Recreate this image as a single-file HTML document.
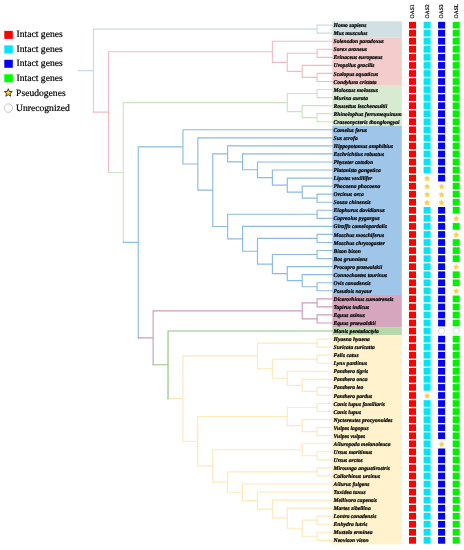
<!DOCTYPE html>
<html><head><meta charset="utf-8"><title>OAS gene phylogeny</title>
<style>
html,body{margin:0;padding:0;background:#fff;}
body{width:464px;height:550px;overflow:hidden;position:relative;}
svg{position:absolute;left:0;top:0;display:block;text-rendering:geometricPrecision;}
</style></head><body>
<svg id="tree" width="464" height="550" viewBox="0 0 464 550">
<rect x="332.30" y="21.30" width="69.50" height="16.10" fill="#d0e0e3"/>
<rect x="332.30" y="37.40" width="69.50" height="48.30" fill="#f4cccc"/>
<rect x="332.30" y="85.70" width="69.50" height="40.25" fill="#d9ead3"/>
<rect x="332.30" y="125.95" width="69.50" height="169.05" fill="#9fc5e8"/>
<rect x="332.30" y="295.00" width="69.50" height="32.20" fill="#d5a6bd"/>
<rect x="332.30" y="327.20" width="69.50" height="8.05" fill="#b6d7a8"/>
<rect x="332.30" y="335.25" width="69.50" height="209.30" fill="#fff2cc"/>
<path d="M317.11 25.10V33.15M317.11 25.10H332.30M317.11 33.15H332.30M93.50 29.13V112.12M93.50 29.13H317.11M78.20 70.62H93.50" fill="none" stroke="#c6dce1" stroke-width="1.15" stroke-linecap="square"/>
<path d="M317.11 49.25V57.30M317.11 49.25H332.30M317.11 57.30H332.30M317.11 73.40V81.45M317.11 73.40H332.30M317.11 81.45H332.30M302.20 65.35V77.43M302.20 65.35H332.30M302.20 77.43H317.11M287.29 53.28V71.39M287.29 53.28H317.11M287.29 71.39H302.20M272.38 41.20V62.33M272.38 41.20H332.30M272.38 62.33H287.29M108.41 51.77V172.47M108.41 51.77H272.38M93.50 112.12H108.41" fill="none" stroke="#f3bcc4" stroke-width="1.15" stroke-linecap="square"/>
<path d="M317.11 89.50V97.55M317.11 89.50H332.30M317.11 97.55H332.30M317.11 113.65V121.70M317.11 113.65H332.30M317.11 121.70H332.30M302.20 105.60V117.68M302.20 105.60H332.30M302.20 117.68H317.11M287.29 93.53V111.64M287.29 93.53H317.11M287.29 111.64H302.20M123.31 102.58V242.35M123.31 102.58H287.29M108.41 172.47H123.31" fill="none" stroke="#cbe3c1" stroke-width="1.15" stroke-linecap="square"/>
<path d="M317.11 194.15V202.20M317.11 194.15H332.30M317.11 202.20H332.30M302.20 186.10V198.18M302.20 186.10H332.30M302.20 198.18H317.11M287.29 178.05V192.14M287.29 178.05H332.30M287.29 192.14H302.20M272.38 170.00V185.09M272.38 170.00H332.30M272.38 185.09H287.29M257.48 161.95V177.55M257.48 161.95H332.30M257.48 177.55H272.38M242.57 153.90V169.75M242.57 153.90H332.30M242.57 169.75H257.48M227.66 145.85V161.82M227.66 145.85H332.30M227.66 161.82H242.57M317.11 210.25V218.30M317.11 210.25H332.30M317.11 218.30H332.30M317.11 234.40V242.45M317.11 234.40H332.30M317.11 242.45H332.30M317.11 250.50V258.55M317.11 250.50H332.30M317.11 258.55H332.30M317.11 282.70V290.75M317.11 282.70H332.30M317.11 290.75H332.30M302.20 274.65V286.73M302.20 274.65H332.30M302.20 286.73H317.11M287.29 266.60V280.69M287.29 266.60H332.30M287.29 280.69H302.20M272.38 254.53V273.64M272.38 254.53H317.11M272.38 273.64H287.29M257.48 238.43V264.08M257.48 238.43H317.11M257.48 264.08H272.38M242.57 226.35V251.25M242.57 226.35H332.30M242.57 251.25H257.48M227.66 214.28V238.80M227.66 214.28H317.11M227.66 238.80H242.57M212.76 153.84V226.54M212.76 153.84H227.66M212.76 226.54H227.66M197.85 137.80V190.19M197.85 137.80H332.30M197.85 190.19H212.76M182.94 129.75V163.99M182.94 129.75H332.30M182.94 163.99H197.85M138.22 146.87V337.83M138.22 146.87H182.94M123.31 242.35H138.22" fill="none" stroke="#8cbae6" stroke-width="1.15" stroke-linecap="square"/>
<path d="M317.11 298.80V306.85M317.11 298.80H332.30M317.11 306.85H332.30M317.11 314.90V322.95M317.11 314.90H332.30M317.11 322.95H332.30M302.20 302.83V318.93M302.20 302.83H317.11M302.20 318.93H317.11M153.13 310.88V364.78M153.13 310.88H302.20M138.22 337.83H153.13" fill="none" stroke="#cf9cb8" stroke-width="1.15" stroke-linecap="square"/>
<path d="M317.11 339.05V347.10M317.11 339.05H332.30M317.11 347.10H332.30M317.11 355.15V363.20M317.11 355.15H332.30M317.11 363.20H332.30M317.11 387.35V395.40M317.11 387.35H332.30M317.11 395.40H332.30M302.20 379.30V391.38M302.20 379.30H332.30M302.20 391.38H317.11M287.29 371.25V385.34M287.29 371.25H332.30M287.29 385.34H302.20M272.38 359.18V378.29M272.38 359.18H317.11M272.38 378.29H287.29M257.48 343.08V368.73M257.48 343.08H317.11M257.48 368.73H272.38M317.11 403.45V411.50M317.11 403.45H332.30M317.11 411.50H332.30M317.11 427.60V435.65M317.11 427.60H332.30M317.11 435.65H332.30M302.20 419.55V431.63M302.20 419.55H332.30M302.20 431.63H317.11M287.29 407.48V425.59M287.29 407.48H317.11M287.29 425.59H302.20M317.11 451.75V459.80M317.11 451.75H332.30M317.11 459.80H332.30M302.20 443.70V455.78M302.20 443.70H332.30M302.20 455.78H317.11M317.11 467.85V475.90M317.11 467.85H332.30M317.11 475.90H332.30M317.11 516.15V524.20M317.11 516.15H332.30M317.11 524.20H332.30M317.11 532.25V540.30M317.11 532.25H332.30M317.11 540.30H332.30M302.20 520.18V536.28M302.20 520.18H317.11M302.20 536.28H317.11M287.29 508.10V528.23M287.29 508.10H332.30M287.29 528.23H302.20M272.38 500.05V518.16M272.38 500.05H332.30M272.38 518.16H287.29M257.48 492.00V509.11M257.48 492.00H332.30M257.48 509.11H272.38M242.57 483.95V500.55M242.57 483.95H332.30M242.57 500.55H257.48M227.66 471.88V492.25M227.66 471.88H317.11M227.66 492.25H242.57M212.76 449.74V482.06M212.76 449.74H302.20M212.76 482.06H227.66M197.85 416.53V465.90M197.85 416.53H287.29M197.85 465.90H212.76M182.94 355.90V441.22M182.94 355.90H257.48M182.94 441.22H197.85M168.03 398.56H182.94" fill="none" stroke="#ffe8ba" stroke-width="1.15" stroke-linecap="square"/>
<path d="M168.03 331.00V398.56M168.03 331.00H332.30M153.13 364.78H168.03" fill="none" stroke="#8fc67a" stroke-width="1.15" stroke-linecap="square"/>
<g font-family="Liberation Serif, serif" font-weight="bold" font-style="italic" font-size="5.6" fill="#000" stroke="#000" stroke-width="0.22">
<text x="333.60" y="27.20">Homo sapiens</text>
<text x="333.60" y="35.25">Mus musculus</text>
<text x="333.60" y="43.30">Solenodon paradoxus</text>
<text x="333.60" y="51.35">Sorex araneus</text>
<text x="333.60" y="59.40">Erinaceus europaeus</text>
<text x="333.60" y="67.45">Uropsilus gracilis</text>
<text x="333.60" y="75.50">Scalopus aquaticus</text>
<text x="333.60" y="83.55">Condylura cristata</text>
<text x="333.60" y="91.60">Molossus molossus</text>
<text x="333.60" y="99.65">Murina aurata</text>
<text x="333.60" y="107.70">Rousettus leschenaultii</text>
<text x="333.60" y="115.75">Rhinolophus ferrumequinum</text>
<text x="333.60" y="123.80">Craseonycteris thonglongyai</text>
<text x="333.60" y="131.85">Camelus ferus</text>
<text x="333.60" y="139.90">Sus scrofa</text>
<text x="333.60" y="147.95">Hippopotamus amphibius</text>
<text x="333.60" y="156.00">Eschrichtius robustus</text>
<text x="333.60" y="164.05">Physeter catodon</text>
<text x="333.60" y="172.10">Platanista gangetica</text>
<text x="333.60" y="180.15">Lipotes vexillifer</text>
<text x="333.60" y="188.20">Phocoena phocoena</text>
<text x="333.60" y="196.25">Orcinus orca</text>
<text x="333.60" y="204.30">Sousa chinensis</text>
<text x="333.60" y="212.35">Elaphurus davidianus</text>
<text x="333.60" y="220.40">Capreolus pygargus</text>
<text x="333.60" y="228.45">Giraffa camelopardalis</text>
<text x="333.60" y="236.50">Moschus moschiferus</text>
<text x="333.60" y="244.55">Moschus chrysogaster</text>
<text x="333.60" y="252.60">Bison bison</text>
<text x="333.60" y="260.65">Bos grunniens</text>
<text x="333.60" y="268.70">Procapra przewalskii</text>
<text x="333.60" y="276.75">Connochaetes taurinus</text>
<text x="333.60" y="284.80">Ovis canadensis</text>
<text x="333.60" y="292.85">Pseudois nayaur</text>
<text x="333.60" y="300.90">Dicerorhinus sumatrensis</text>
<text x="333.60" y="308.95">Tapirus indicus</text>
<text x="333.60" y="317.00">Equus asinus</text>
<text x="333.60" y="325.05">Equus przewalskii</text>
<text x="333.60" y="333.10">Manis pentadactyla</text>
<text x="333.60" y="341.15">Hyaena hyaena</text>
<text x="333.60" y="349.20">Suricata suricatta</text>
<text x="333.60" y="357.25">Felis catus</text>
<text x="333.60" y="365.30">Lynx pardinus</text>
<text x="333.60" y="373.35">Panthera tigris</text>
<text x="333.60" y="381.40">Panthera onca</text>
<text x="333.60" y="389.45">Panthera leo</text>
<text x="333.60" y="397.50">Panthera pardus</text>
<text x="333.60" y="405.55">Canis lupus familiaris</text>
<text x="333.60" y="413.60">Canis lupus</text>
<text x="333.60" y="421.65">Nyctereutes procyonoides</text>
<text x="333.60" y="429.70">Vulpes lagopus</text>
<text x="333.60" y="437.75">Vulpes vulpes</text>
<text x="333.60" y="445.80">Ailuropoda melanoleuca</text>
<text x="333.60" y="453.85">Ursus maritimus</text>
<text x="333.60" y="461.90">Ursus arctos</text>
<text x="333.60" y="469.95">Mirounga angustirostris</text>
<text x="333.60" y="478.00">Callorhinus ursinus</text>
<text x="333.60" y="486.05">Ailurus fulgens</text>
<text x="333.60" y="494.10">Taxidea taxus</text>
<text x="333.60" y="502.15">Mellivora capensis</text>
<text x="333.60" y="510.20">Martes zibellina</text>
<text x="333.60" y="518.25">Lontra canadensis</text>
<text x="333.60" y="526.30">Enhydra lutris</text>
<text x="333.60" y="534.35">Mustela erminea</text>
<text x="333.60" y="542.40">Neovison vison</text>
</g>
<rect x="409.00" y="21.85" width="7.0" height="6.65" fill="#ff0000"/>
<rect x="423.60" y="21.85" width="7.0" height="6.65" fill="#05e3f5"/>
<rect x="438.10" y="21.85" width="7.0" height="6.65" fill="#0000f5"/>
<rect x="452.70" y="21.85" width="7.0" height="6.65" fill="#00f000"/>
<rect x="409.00" y="29.90" width="7.0" height="6.65" fill="#ff0000"/>
<rect x="423.60" y="29.90" width="7.0" height="6.65" fill="#05e3f5"/>
<rect x="438.10" y="29.90" width="7.0" height="6.65" fill="#0000f5"/>
<rect x="452.70" y="29.90" width="7.0" height="6.65" fill="#00f000"/>
<rect x="409.00" y="37.95" width="7.0" height="6.65" fill="#ff0000"/>
<rect x="423.60" y="37.95" width="7.0" height="6.65" fill="#05e3f5"/>
<rect x="438.10" y="37.95" width="7.0" height="6.65" fill="#0000f5"/>
<rect x="452.70" y="37.95" width="7.0" height="6.65" fill="#00f000"/>
<rect x="409.00" y="46.00" width="7.0" height="6.65" fill="#ff0000"/>
<rect x="423.60" y="46.00" width="7.0" height="6.65" fill="#05e3f5"/>
<rect x="438.10" y="46.00" width="7.0" height="6.65" fill="#0000f5"/>
<rect x="452.70" y="46.00" width="7.0" height="6.65" fill="#00f000"/>
<rect x="409.00" y="54.05" width="7.0" height="6.65" fill="#ff0000"/>
<rect x="423.60" y="54.05" width="7.0" height="6.65" fill="#05e3f5"/>
<rect x="438.10" y="54.05" width="7.0" height="6.65" fill="#0000f5"/>
<rect x="452.70" y="54.05" width="7.0" height="6.65" fill="#00f000"/>
<rect x="409.00" y="62.10" width="7.0" height="6.65" fill="#ff0000"/>
<rect x="423.60" y="62.10" width="7.0" height="6.65" fill="#05e3f5"/>
<rect x="438.10" y="62.10" width="7.0" height="6.65" fill="#0000f5"/>
<rect x="452.70" y="62.10" width="7.0" height="6.65" fill="#00f000"/>
<rect x="409.00" y="70.15" width="7.0" height="6.65" fill="#ff0000"/>
<rect x="423.60" y="70.15" width="7.0" height="6.65" fill="#05e3f5"/>
<rect x="438.10" y="70.15" width="7.0" height="6.65" fill="#0000f5"/>
<rect x="452.70" y="70.15" width="7.0" height="6.65" fill="#00f000"/>
<rect x="409.00" y="78.20" width="7.0" height="6.65" fill="#ff0000"/>
<rect x="423.60" y="78.20" width="7.0" height="6.65" fill="#05e3f5"/>
<rect x="438.10" y="78.20" width="7.0" height="6.65" fill="#0000f5"/>
<rect x="452.70" y="78.20" width="7.0" height="6.65" fill="#00f000"/>
<rect x="409.00" y="86.25" width="7.0" height="6.65" fill="#ff0000"/>
<rect x="423.60" y="86.25" width="7.0" height="6.65" fill="#05e3f5"/>
<rect x="438.10" y="86.25" width="7.0" height="6.65" fill="#0000f5"/>
<rect x="452.70" y="86.25" width="7.0" height="6.65" fill="#00f000"/>
<rect x="409.00" y="94.30" width="7.0" height="6.65" fill="#ff0000"/>
<rect x="423.60" y="94.30" width="7.0" height="6.65" fill="#05e3f5"/>
<rect x="438.10" y="94.30" width="7.0" height="6.65" fill="#0000f5"/>
<rect x="452.70" y="94.30" width="7.0" height="6.65" fill="#00f000"/>
<rect x="409.00" y="102.35" width="7.0" height="6.65" fill="#ff0000"/>
<rect x="423.60" y="102.35" width="7.0" height="6.65" fill="#05e3f5"/>
<rect x="438.10" y="102.35" width="7.0" height="6.65" fill="#0000f5"/>
<rect x="452.70" y="102.35" width="7.0" height="6.65" fill="#00f000"/>
<rect x="409.00" y="110.40" width="7.0" height="6.65" fill="#ff0000"/>
<rect x="423.60" y="110.40" width="7.0" height="6.65" fill="#05e3f5"/>
<rect x="438.10" y="110.40" width="7.0" height="6.65" fill="#0000f5"/>
<rect x="452.70" y="110.40" width="7.0" height="6.65" fill="#00f000"/>
<rect x="409.00" y="118.45" width="7.0" height="6.65" fill="#ff0000"/>
<rect x="423.60" y="118.45" width="7.0" height="6.65" fill="#05e3f5"/>
<rect x="438.10" y="118.45" width="7.0" height="6.65" fill="#0000f5"/>
<rect x="452.70" y="118.45" width="7.0" height="6.65" fill="#00f000"/>
<rect x="409.00" y="126.50" width="7.0" height="6.65" fill="#ff0000"/>
<rect x="423.60" y="126.50" width="7.0" height="6.65" fill="#05e3f5"/>
<rect x="438.10" y="126.50" width="7.0" height="6.65" fill="#0000f5"/>
<rect x="452.70" y="126.50" width="7.0" height="6.65" fill="#00f000"/>
<rect x="409.00" y="134.55" width="7.0" height="6.65" fill="#ff0000"/>
<rect x="423.60" y="134.55" width="7.0" height="6.65" fill="#05e3f5"/>
<rect x="438.10" y="134.55" width="7.0" height="6.65" fill="#0000f5"/>
<rect x="452.70" y="134.55" width="7.0" height="6.65" fill="#00f000"/>
<rect x="409.00" y="142.60" width="7.0" height="6.65" fill="#ff0000"/>
<rect x="423.60" y="142.60" width="7.0" height="6.65" fill="#05e3f5"/>
<rect x="438.10" y="142.60" width="7.0" height="6.65" fill="#0000f5"/>
<rect x="452.70" y="142.60" width="7.0" height="6.65" fill="#00f000"/>
<rect x="409.00" y="150.65" width="7.0" height="6.65" fill="#ff0000"/>
<rect x="423.60" y="150.65" width="7.0" height="6.65" fill="#05e3f5"/>
<rect x="438.10" y="150.65" width="7.0" height="6.65" fill="#0000f5"/>
<rect x="452.70" y="150.65" width="7.0" height="6.65" fill="#00f000"/>
<rect x="409.00" y="158.70" width="7.0" height="6.65" fill="#ff0000"/>
<rect x="423.60" y="158.70" width="7.0" height="6.65" fill="#05e3f5"/>
<rect x="438.10" y="158.70" width="7.0" height="6.65" fill="#0000f5"/>
<rect x="452.70" y="158.70" width="7.0" height="6.65" fill="#00f000"/>
<rect x="409.00" y="166.75" width="7.0" height="6.65" fill="#ff0000"/>
<rect x="423.60" y="166.75" width="7.0" height="6.65" fill="#05e3f5"/>
<rect x="438.10" y="166.75" width="7.0" height="6.65" fill="#0000f5"/>
<rect x="452.70" y="166.75" width="7.0" height="6.65" fill="#00f000"/>
<rect x="409.00" y="174.80" width="7.0" height="6.65" fill="#ff0000"/>
<polygon points="427.10,175.58 427.98,177.36 429.95,177.65 428.53,179.04 428.86,181.00 427.10,180.08 425.34,181.00 425.67,179.04 424.25,177.65 426.22,177.36" fill="#fbcf55" stroke="#f5c445" stroke-width="0.3"/>
<rect x="438.10" y="174.80" width="7.0" height="6.65" fill="#0000f5"/>
<rect x="452.70" y="174.80" width="7.0" height="6.65" fill="#00f000"/>
<rect x="409.00" y="182.85" width="7.0" height="6.65" fill="#ff0000"/>
<polygon points="427.10,183.62 427.98,185.41 429.95,185.70 428.53,187.09 428.86,189.05 427.10,188.12 425.34,189.05 425.67,187.09 424.25,185.70 426.22,185.41" fill="#fbcf55" stroke="#f5c445" stroke-width="0.3"/>
<polygon points="441.60,183.62 442.48,185.41 444.45,185.70 443.03,187.09 443.36,189.05 441.60,188.12 439.84,189.05 440.17,187.09 438.75,185.70 440.72,185.41" fill="#fbcf55" stroke="#f5c445" stroke-width="0.3"/>
<rect x="452.70" y="182.85" width="7.0" height="6.65" fill="#00f000"/>
<rect x="409.00" y="190.90" width="7.0" height="6.65" fill="#ff0000"/>
<polygon points="427.10,191.68 427.98,193.46 429.95,193.75 428.53,195.14 428.86,197.10 427.10,196.18 425.34,197.10 425.67,195.14 424.25,193.75 426.22,193.46" fill="#fbcf55" stroke="#f5c445" stroke-width="0.3"/>
<polygon points="441.60,191.68 442.48,193.46 444.45,193.75 443.03,195.14 443.36,197.10 441.60,196.18 439.84,197.10 440.17,195.14 438.75,193.75 440.72,193.46" fill="#fbcf55" stroke="#f5c445" stroke-width="0.3"/>
<rect x="452.70" y="190.90" width="7.0" height="6.65" fill="#00f000"/>
<rect x="409.00" y="198.95" width="7.0" height="6.65" fill="#ff0000"/>
<polygon points="427.10,199.73 427.98,201.51 429.95,201.80 428.53,203.19 428.86,205.15 427.10,204.23 425.34,205.15 425.67,203.19 424.25,201.80 426.22,201.51" fill="#fbcf55" stroke="#f5c445" stroke-width="0.3"/>
<polygon points="441.60,199.73 442.48,201.51 444.45,201.80 443.03,203.19 443.36,205.15 441.60,204.23 439.84,205.15 440.17,203.19 438.75,201.80 440.72,201.51" fill="#fbcf55" stroke="#f5c445" stroke-width="0.3"/>
<rect x="452.70" y="198.95" width="7.0" height="6.65" fill="#00f000"/>
<rect x="409.00" y="207.00" width="7.0" height="6.65" fill="#ff0000"/>
<rect x="423.60" y="207.00" width="7.0" height="6.65" fill="#05e3f5"/>
<rect x="438.10" y="207.00" width="7.0" height="6.65" fill="#0000f5"/>
<rect x="452.70" y="207.00" width="7.0" height="6.65" fill="#00f000"/>
<rect x="409.00" y="215.05" width="7.0" height="6.65" fill="#ff0000"/>
<rect x="423.60" y="215.05" width="7.0" height="6.65" fill="#05e3f5"/>
<rect x="438.10" y="215.05" width="7.0" height="6.65" fill="#0000f5"/>
<polygon points="456.20,215.83 457.08,217.61 459.05,217.90 457.63,219.29 457.96,221.25 456.20,220.33 454.44,221.25 454.77,219.29 453.35,217.90 455.32,217.61" fill="#fbcf55" stroke="#f5c445" stroke-width="0.3"/>
<rect x="409.00" y="223.10" width="7.0" height="6.65" fill="#ff0000"/>
<rect x="423.60" y="223.10" width="7.0" height="6.65" fill="#05e3f5"/>
<rect x="438.10" y="223.10" width="7.0" height="6.65" fill="#0000f5"/>
<rect x="452.70" y="223.10" width="7.0" height="6.65" fill="#00f000"/>
<rect x="409.00" y="231.15" width="7.0" height="6.65" fill="#ff0000"/>
<rect x="423.60" y="231.15" width="7.0" height="6.65" fill="#05e3f5"/>
<rect x="438.10" y="231.15" width="7.0" height="6.65" fill="#0000f5"/>
<polygon points="456.20,231.93 457.08,233.71 459.05,234.00 457.63,235.39 457.96,237.35 456.20,236.43 454.44,237.35 454.77,235.39 453.35,234.00 455.32,233.71" fill="#fbcf55" stroke="#f5c445" stroke-width="0.3"/>
<rect x="409.00" y="239.20" width="7.0" height="6.65" fill="#ff0000"/>
<rect x="423.60" y="239.20" width="7.0" height="6.65" fill="#05e3f5"/>
<rect x="438.10" y="239.20" width="7.0" height="6.65" fill="#0000f5"/>
<rect x="452.70" y="239.20" width="7.0" height="6.65" fill="#00f000"/>
<rect x="409.00" y="247.25" width="7.0" height="6.65" fill="#ff0000"/>
<rect x="423.60" y="247.25" width="7.0" height="6.65" fill="#05e3f5"/>
<rect x="438.10" y="247.25" width="7.0" height="6.65" fill="#0000f5"/>
<rect x="452.70" y="247.25" width="7.0" height="6.65" fill="#00f000"/>
<rect x="409.00" y="255.30" width="7.0" height="6.65" fill="#ff0000"/>
<rect x="423.60" y="255.30" width="7.0" height="6.65" fill="#05e3f5"/>
<rect x="438.10" y="255.30" width="7.0" height="6.65" fill="#0000f5"/>
<rect x="452.70" y="255.30" width="7.0" height="6.65" fill="#00f000"/>
<rect x="409.00" y="263.35" width="7.0" height="6.65" fill="#ff0000"/>
<rect x="423.60" y="263.35" width="7.0" height="6.65" fill="#05e3f5"/>
<rect x="438.10" y="263.35" width="7.0" height="6.65" fill="#0000f5"/>
<polygon points="456.20,264.12 457.08,265.91 459.05,266.20 457.63,267.59 457.96,269.55 456.20,268.62 454.44,269.55 454.77,267.59 453.35,266.20 455.32,265.91" fill="#fbcf55" stroke="#f5c445" stroke-width="0.3"/>
<rect x="409.00" y="271.40" width="7.0" height="6.65" fill="#ff0000"/>
<rect x="423.60" y="271.40" width="7.0" height="6.65" fill="#05e3f5"/>
<rect x="438.10" y="271.40" width="7.0" height="6.65" fill="#0000f5"/>
<rect x="452.70" y="271.40" width="7.0" height="6.65" fill="#00f000"/>
<rect x="409.00" y="279.45" width="7.0" height="6.65" fill="#ff0000"/>
<rect x="423.60" y="279.45" width="7.0" height="6.65" fill="#05e3f5"/>
<rect x="438.10" y="279.45" width="7.0" height="6.65" fill="#0000f5"/>
<rect x="452.70" y="279.45" width="7.0" height="6.65" fill="#00f000"/>
<rect x="409.00" y="287.50" width="7.0" height="6.65" fill="#ff0000"/>
<rect x="423.60" y="287.50" width="7.0" height="6.65" fill="#05e3f5"/>
<rect x="438.10" y="287.50" width="7.0" height="6.65" fill="#0000f5"/>
<polygon points="456.20,288.28 457.08,290.06 459.05,290.35 457.63,291.74 457.96,293.70 456.20,292.78 454.44,293.70 454.77,291.74 453.35,290.35 455.32,290.06" fill="#fbcf55" stroke="#f5c445" stroke-width="0.3"/>
<rect x="409.00" y="295.55" width="7.0" height="6.65" fill="#ff0000"/>
<rect x="423.60" y="295.55" width="7.0" height="6.65" fill="#05e3f5"/>
<rect x="438.10" y="295.55" width="7.0" height="6.65" fill="#0000f5"/>
<rect x="452.70" y="295.55" width="7.0" height="6.65" fill="#00f000"/>
<rect x="409.00" y="303.60" width="7.0" height="6.65" fill="#ff0000"/>
<rect x="423.60" y="303.60" width="7.0" height="6.65" fill="#05e3f5"/>
<rect x="438.10" y="303.60" width="7.0" height="6.65" fill="#0000f5"/>
<rect x="452.70" y="303.60" width="7.0" height="6.65" fill="#00f000"/>
<rect x="409.00" y="311.65" width="7.0" height="6.65" fill="#ff0000"/>
<rect x="423.60" y="311.65" width="7.0" height="6.65" fill="#05e3f5"/>
<rect x="438.10" y="311.65" width="7.0" height="6.65" fill="#0000f5"/>
<rect x="452.70" y="311.65" width="7.0" height="6.65" fill="#00f000"/>
<rect x="409.00" y="319.70" width="7.0" height="6.65" fill="#ff0000"/>
<rect x="423.60" y="319.70" width="7.0" height="6.65" fill="#05e3f5"/>
<rect x="438.10" y="319.70" width="7.0" height="6.65" fill="#0000f5"/>
<rect x="452.70" y="319.70" width="7.0" height="6.65" fill="#00f000"/>
<rect x="409.00" y="327.75" width="7.0" height="6.65" fill="#ff0000"/>
<rect x="423.60" y="327.75" width="7.0" height="6.65" fill="#05e3f5"/>
<circle cx="441.60" cy="331.08" r="3.2" fill="#fff" stroke="#c4c0d4" stroke-width="0.6"/>
<circle cx="456.20" cy="331.08" r="3.2" fill="#fff" stroke="#c4c0d4" stroke-width="0.6"/>
<rect x="409.00" y="335.80" width="7.0" height="6.65" fill="#ff0000"/>
<rect x="423.60" y="335.80" width="7.0" height="6.65" fill="#05e3f5"/>
<rect x="438.10" y="335.80" width="7.0" height="6.65" fill="#0000f5"/>
<rect x="452.70" y="335.80" width="7.0" height="6.65" fill="#00f000"/>
<rect x="409.00" y="343.85" width="7.0" height="6.65" fill="#ff0000"/>
<rect x="423.60" y="343.85" width="7.0" height="6.65" fill="#05e3f5"/>
<rect x="438.10" y="343.85" width="7.0" height="6.65" fill="#0000f5"/>
<rect x="452.70" y="343.85" width="7.0" height="6.65" fill="#00f000"/>
<rect x="409.00" y="351.90" width="7.0" height="6.65" fill="#ff0000"/>
<rect x="423.60" y="351.90" width="7.0" height="6.65" fill="#05e3f5"/>
<rect x="438.10" y="351.90" width="7.0" height="6.65" fill="#0000f5"/>
<rect x="452.70" y="351.90" width="7.0" height="6.65" fill="#00f000"/>
<rect x="409.00" y="359.95" width="7.0" height="6.65" fill="#ff0000"/>
<rect x="423.60" y="359.95" width="7.0" height="6.65" fill="#05e3f5"/>
<rect x="438.10" y="359.95" width="7.0" height="6.65" fill="#0000f5"/>
<rect x="452.70" y="359.95" width="7.0" height="6.65" fill="#00f000"/>
<rect x="409.00" y="368.00" width="7.0" height="6.65" fill="#ff0000"/>
<rect x="423.60" y="368.00" width="7.0" height="6.65" fill="#05e3f5"/>
<rect x="438.10" y="368.00" width="7.0" height="6.65" fill="#0000f5"/>
<rect x="452.70" y="368.00" width="7.0" height="6.65" fill="#00f000"/>
<rect x="409.00" y="376.05" width="7.0" height="6.65" fill="#ff0000"/>
<rect x="423.60" y="376.05" width="7.0" height="6.65" fill="#05e3f5"/>
<rect x="438.10" y="376.05" width="7.0" height="6.65" fill="#0000f5"/>
<rect x="452.70" y="376.05" width="7.0" height="6.65" fill="#00f000"/>
<rect x="409.00" y="384.10" width="7.0" height="6.65" fill="#ff0000"/>
<rect x="423.60" y="384.10" width="7.0" height="6.65" fill="#05e3f5"/>
<rect x="438.10" y="384.10" width="7.0" height="6.65" fill="#0000f5"/>
<rect x="452.70" y="384.10" width="7.0" height="6.65" fill="#00f000"/>
<rect x="409.00" y="392.15" width="7.0" height="6.65" fill="#ff0000"/>
<polygon points="427.10,392.93 427.98,394.71 429.95,395.00 428.53,396.39 428.86,398.35 427.10,397.43 425.34,398.35 425.67,396.39 424.25,395.00 426.22,394.71" fill="#fbcf55" stroke="#f5c445" stroke-width="0.3"/>
<rect x="438.10" y="392.15" width="7.0" height="6.65" fill="#0000f5"/>
<rect x="452.70" y="392.15" width="7.0" height="6.65" fill="#00f000"/>
<rect x="409.00" y="400.20" width="7.0" height="6.65" fill="#ff0000"/>
<rect x="423.60" y="400.20" width="7.0" height="6.65" fill="#05e3f5"/>
<rect x="438.10" y="400.20" width="7.0" height="6.65" fill="#0000f5"/>
<rect x="452.70" y="400.20" width="7.0" height="6.65" fill="#00f000"/>
<rect x="409.00" y="408.25" width="7.0" height="6.65" fill="#ff0000"/>
<rect x="423.60" y="408.25" width="7.0" height="6.65" fill="#05e3f5"/>
<rect x="438.10" y="408.25" width="7.0" height="6.65" fill="#0000f5"/>
<rect x="452.70" y="408.25" width="7.0" height="6.65" fill="#00f000"/>
<rect x="409.00" y="416.30" width="7.0" height="6.65" fill="#ff0000"/>
<rect x="423.60" y="416.30" width="7.0" height="6.65" fill="#05e3f5"/>
<rect x="438.10" y="416.30" width="7.0" height="6.65" fill="#0000f5"/>
<rect x="452.70" y="416.30" width="7.0" height="6.65" fill="#00f000"/>
<rect x="409.00" y="424.35" width="7.0" height="6.65" fill="#ff0000"/>
<rect x="423.60" y="424.35" width="7.0" height="6.65" fill="#05e3f5"/>
<rect x="438.10" y="424.35" width="7.0" height="6.65" fill="#0000f5"/>
<rect x="452.70" y="424.35" width="7.0" height="6.65" fill="#00f000"/>
<rect x="409.00" y="432.40" width="7.0" height="6.65" fill="#ff0000"/>
<rect x="423.60" y="432.40" width="7.0" height="6.65" fill="#05e3f5"/>
<rect x="438.10" y="432.40" width="7.0" height="6.65" fill="#0000f5"/>
<rect x="452.70" y="432.40" width="7.0" height="6.65" fill="#00f000"/>
<rect x="409.00" y="440.45" width="7.0" height="6.65" fill="#ff0000"/>
<rect x="423.60" y="440.45" width="7.0" height="6.65" fill="#05e3f5"/>
<polygon points="441.60,441.23 442.48,443.01 444.45,443.30 443.03,444.69 443.36,446.65 441.60,445.73 439.84,446.65 440.17,444.69 438.75,443.30 440.72,443.01" fill="#fbcf55" stroke="#f5c445" stroke-width="0.3"/>
<rect x="452.70" y="440.45" width="7.0" height="6.65" fill="#00f000"/>
<rect x="409.00" y="448.50" width="7.0" height="6.65" fill="#ff0000"/>
<rect x="423.60" y="448.50" width="7.0" height="6.65" fill="#05e3f5"/>
<rect x="438.10" y="448.50" width="7.0" height="6.65" fill="#0000f5"/>
<rect x="452.70" y="448.50" width="7.0" height="6.65" fill="#00f000"/>
<rect x="409.00" y="456.55" width="7.0" height="6.65" fill="#ff0000"/>
<rect x="423.60" y="456.55" width="7.0" height="6.65" fill="#05e3f5"/>
<rect x="438.10" y="456.55" width="7.0" height="6.65" fill="#0000f5"/>
<rect x="452.70" y="456.55" width="7.0" height="6.65" fill="#00f000"/>
<rect x="409.00" y="464.60" width="7.0" height="6.65" fill="#ff0000"/>
<rect x="423.60" y="464.60" width="7.0" height="6.65" fill="#05e3f5"/>
<rect x="438.10" y="464.60" width="7.0" height="6.65" fill="#0000f5"/>
<rect x="452.70" y="464.60" width="7.0" height="6.65" fill="#00f000"/>
<rect x="409.00" y="472.65" width="7.0" height="6.65" fill="#ff0000"/>
<rect x="423.60" y="472.65" width="7.0" height="6.65" fill="#05e3f5"/>
<rect x="438.10" y="472.65" width="7.0" height="6.65" fill="#0000f5"/>
<rect x="452.70" y="472.65" width="7.0" height="6.65" fill="#00f000"/>
<rect x="409.00" y="480.70" width="7.0" height="6.65" fill="#ff0000"/>
<rect x="423.60" y="480.70" width="7.0" height="6.65" fill="#05e3f5"/>
<rect x="438.10" y="480.70" width="7.0" height="6.65" fill="#0000f5"/>
<rect x="452.70" y="480.70" width="7.0" height="6.65" fill="#00f000"/>
<rect x="409.00" y="488.75" width="7.0" height="6.65" fill="#ff0000"/>
<rect x="423.60" y="488.75" width="7.0" height="6.65" fill="#05e3f5"/>
<rect x="438.10" y="488.75" width="7.0" height="6.65" fill="#0000f5"/>
<rect x="452.70" y="488.75" width="7.0" height="6.65" fill="#00f000"/>
<rect x="409.00" y="496.80" width="7.0" height="6.65" fill="#ff0000"/>
<rect x="423.60" y="496.80" width="7.0" height="6.65" fill="#05e3f5"/>
<rect x="438.10" y="496.80" width="7.0" height="6.65" fill="#0000f5"/>
<rect x="452.70" y="496.80" width="7.0" height="6.65" fill="#00f000"/>
<rect x="409.00" y="504.85" width="7.0" height="6.65" fill="#ff0000"/>
<rect x="423.60" y="504.85" width="7.0" height="6.65" fill="#05e3f5"/>
<rect x="438.10" y="504.85" width="7.0" height="6.65" fill="#0000f5"/>
<rect x="452.70" y="504.85" width="7.0" height="6.65" fill="#00f000"/>
<rect x="409.00" y="512.90" width="7.0" height="6.65" fill="#ff0000"/>
<rect x="423.60" y="512.90" width="7.0" height="6.65" fill="#05e3f5"/>
<rect x="438.10" y="512.90" width="7.0" height="6.65" fill="#0000f5"/>
<rect x="452.70" y="512.90" width="7.0" height="6.65" fill="#00f000"/>
<rect x="409.00" y="520.95" width="7.0" height="6.65" fill="#ff0000"/>
<rect x="423.60" y="520.95" width="7.0" height="6.65" fill="#05e3f5"/>
<rect x="438.10" y="520.95" width="7.0" height="6.65" fill="#0000f5"/>
<rect x="452.70" y="520.95" width="7.0" height="6.65" fill="#00f000"/>
<rect x="409.00" y="529.00" width="7.0" height="6.65" fill="#ff0000"/>
<rect x="423.60" y="529.00" width="7.0" height="6.65" fill="#05e3f5"/>
<rect x="438.10" y="529.00" width="7.0" height="6.65" fill="#0000f5"/>
<rect x="452.70" y="529.00" width="7.0" height="6.65" fill="#00f000"/>
<rect x="409.00" y="537.05" width="7.0" height="6.65" fill="#ff0000"/>
<rect x="423.60" y="537.05" width="7.0" height="6.65" fill="#05e3f5"/>
<rect x="438.10" y="537.05" width="7.0" height="6.65" fill="#0000f5"/>
<rect x="452.70" y="537.05" width="7.0" height="6.65" fill="#00f000"/>
<text transform="translate(414.10,18.4) rotate(-90)" font-family="Liberation Serif, serif" font-size="5.6" fill="#000" stroke="#000" stroke-width="0.2">OAS1</text>
<text transform="translate(428.70,18.4) rotate(-90)" font-family="Liberation Serif, serif" font-size="5.6" fill="#000" stroke="#000" stroke-width="0.2">OAS2</text>
<text transform="translate(443.20,18.4) rotate(-90)" font-family="Liberation Serif, serif" font-size="5.6" fill="#000" stroke="#000" stroke-width="0.2">OAS3</text>
<text transform="translate(457.80,18.4) rotate(-90)" font-family="Liberation Serif, serif" font-size="5.6" fill="#000" stroke="#000" stroke-width="0.2">OASL</text>
<rect x="4.3" y="30.90" width="8.5" height="8.0" fill="#ff0000"/>
<text x="16.6" y="37.30" font-family="Liberation Serif, serif" font-size="9.6" fill="#000" stroke="#000" stroke-width="0.2">Intact genes</text>
<rect x="4.3" y="45.35" width="8.5" height="8.0" fill="#00e5ff"/>
<text x="16.6" y="51.75" font-family="Liberation Serif, serif" font-size="9.6" fill="#000" stroke="#000" stroke-width="0.2">Intact genes</text>
<rect x="4.3" y="59.80" width="8.5" height="8.0" fill="#0000ff"/>
<text x="16.6" y="66.20" font-family="Liberation Serif, serif" font-size="9.6" fill="#000" stroke="#000" stroke-width="0.2">Intact genes</text>
<rect x="4.3" y="74.25" width="8.5" height="8.0" fill="#00ff00"/>
<text x="16.6" y="80.65" font-family="Liberation Serif, serif" font-size="9.6" fill="#000" stroke="#000" stroke-width="0.2">Intact genes</text>
<polygon points="8.30,88.75 9.36,91.44 12.25,91.62 10.01,93.46 10.74,96.26 8.30,94.70 5.86,96.26 6.59,93.46 4.35,91.62 7.24,91.44" fill="#f3da48" stroke="#1e1a10" stroke-width="0.8" stroke-linejoin="miter"/>
<text x="16.1" y="96.00" font-family="Liberation Serif, serif" font-size="9.6" fill="#000" stroke="#000" stroke-width="0.2">Pseudogenes</text>
<circle cx="8.3" cy="108.1" r="4.25" fill="#fff" stroke="#a5a5a5" stroke-width="0.6"/>
<text x="16.1" y="110.80" font-family="Liberation Serif, serif" font-size="9.6" fill="#000" stroke="#000" stroke-width="0.2">Unrecognized</text>
</svg>
</body></html>
